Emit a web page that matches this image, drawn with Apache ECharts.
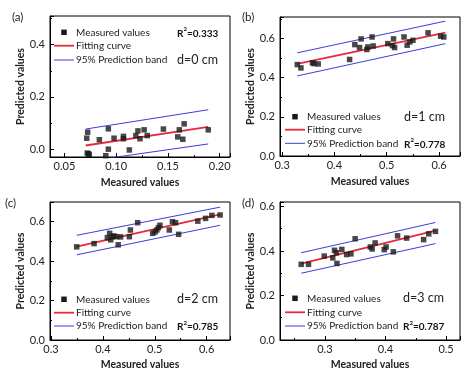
<!DOCTYPE html>
<html><head><meta charset="utf-8">
<script src="https://cdn.jsdelivr.net/npm/echarts@6/dist/echarts.min.js"></script>
<style>html,body{margin:0;padding:0;background:#fff}#c{width:474px;height:382px}</style>
</head><body><div id="c"></div>
<script>
// ---- Panel (a) d=0 cm ----
const aMeasured = [0.0715,0.0724,0.072,0.074,0.073,0.0837,0.0924,0.0924,0.0899,0.0979,0.107,0.107,0.1127,0.119,0.121,0.123,0.127,0.130,0.1456,0.1595,0.161,0.1644,0.1657,0.189];
const aPredicted = [0.042,0.065,-0.015,-0.02,-0.018,0.036,0.078,0.0,-0.025,0.042,0.049,0.040,-0.003,0.052,0.070,0.040,0.074,0.052,0.077,0.047,0.074,0.038,0.097,0.074];
const aLineX = [0.0705, 0.189];
const aFit = [0.014, 0.085];
const aUpper = [0.077, 0.151];
const aLower = [-0.047, 0.020];
// ---- Panel (b) d=1 cm ----
const bMeasured = [0.329,0.336,0.358,0.361,0.369,0.429,0.439,0.448,0.451,0.462,0.464,0.472,0.474,0.502,0.511,0.513,0.515,0.533,0.539,0.544,0.550,0.579,0.603,0.609];
const bPredicted = [0.467,0.450,0.476,0.472,0.470,0.493,0.569,0.554,0.598,0.544,0.557,0.608,0.562,0.574,0.564,0.598,0.554,0.608,0.566,0.583,0.591,0.629,0.612,0.608];
const bLineX = [0.329, 0.612];
const bFit = [0.470, 0.630];
const bUpper = [0.527, 0.689];
const bLower = [0.409, 0.574];
// ---- Panel (c) d=2 cm ----
const cMeasured = [0.3495,0.383,0.4086,0.413,0.415,0.418,0.421,0.426,0.4295,0.434,0.451,0.453,0.467,0.496,0.5006,0.504,0.507,0.510,0.528,0.534,0.540,0.546,0.583,0.598,0.610,0.626];
const cPredicted = [0.4725,0.489,0.519,0.541,0.508,0.524,0.528,0.524,0.483,0.523,0.524,0.558,0.595,0.541,0.548,0.558,0.570,0.582,0.558,0.600,0.595,0.536,0.603,0.617,0.632,0.634];
const cLineX = [0.3495, 0.626];
const cFit = [0.474, 0.637];
const cUpper = [0.531, 0.674];
const cLower = [0.432, 0.582];
// ---- Panel (d) d=3 cm ----
const dMeasured = [0.261,0.273,0.299,0.313,0.316,0.319,0.320,0.328,0.336,0.343,0.350,0.375,0.378,0.383,0.398,0.401,0.413,0.420,0.435,0.463,0.4715,0.4825];
const dPredicted = [0.340,0.340,0.377,0.369,0.403,0.392,0.344,0.407,0.384,0.387,0.455,0.418,0.409,0.436,0.406,0.418,0.396,0.468,0.458,0.451,0.477,0.488];
const dLineX = [0.261, 0.4825];
const dFit = [0.343, 0.491];
const dUpper = [0.392, 0.528];
const dLower = [0.300, 0.433];

const panelLabels = ['(a)','(b)','(c)','(d)'];
const distLabels = ['d=0 cm','d=1 cm','d=2 cm','d=3 cm'];
const r2Labels = ['0.333','0.778','0.785','0.787'];
const legendNames = ['Measured values','Fitting curve','95% Prediction band'];
const xTitle = 'Measured values';
const yTitle = 'Predicted values';

const FONT = 'Lato, "Liberation Sans", Arial, sans-serif';
const RED = '#e8283f';
const BLUE = '#3c3cdc';

const panels = [
  {mx:aMeasured, my:aPredicted, lx:aLineX, fit:aFit, up:aUpper, lo:aLower,
   grid:{left:50,top:16,width:180,height:141}, x:[0.036,0.21,0.05,2], y:[-0.03,0.51,0.2,1], xg:20, yg:20},
  {mx:bMeasured, my:bPredicted, lx:bLineX, fit:bFit, up:bUpper, lo:bLower,
   grid:{left:280,top:17,width:180,height:139}, x:[0.296,0.64,0.1,1], y:[0,0.71,0.2,1], xg:20, yg:24},
  {mx:cMeasured, my:cPredicted, lx:cLineX, fit:cFit, up:cUpper, lo:cLower,
   grid:{left:50,top:202,width:180,height:138}, x:[0.298,0.645,0.1,1], y:[0,0.7,0.2,1], xg:19, yg:20},
  {mx:dMeasured, my:dPredicted, lx:dLineX, fit:dFit, up:dUpper, lo:dLower,
   grid:{left:280,top:202,width:180,height:138}, x:[0.226,0.523,0.1,1], y:[0,0.62,0.2,1], xg:19, yg:24}
];

function fmt(step, dec){
  return function(v){
    const k = v/step;
    return Math.abs(k - Math.round(k)) < 1e-6 ? v.toFixed(dec) : '';
  };
}
function axis(r, isX, gap){
  return {
    type:'value', min:r[0], max:r[1], minInterval:r[2], maxInterval:r[2], splitNumber:3,
    name: isX ? xTitle : yTitle, nameLocation:'middle', nameGap:gap,
    nameTextStyle:{fontFamily:FONT, fontWeight:'bold', fontSize:10.5, color:'#222'},
    axisLine:{show:true, onZero:false, lineStyle:{color:'#000', width:1}},
    axisTick:{show:true, inside:true, length:4, lineStyle:{color:'#000'}},
    minorTick:{show:true, splitNumber:2, length:2, lineStyle:{color:'#000'}},
    splitLine:{show:false},
    axisLabel:{fontFamily:FONT, fontSize:11, color:'#222', margin:isX?4:5,
      formatter: fmt(r[2], r[3]), showMinLabel:true, showMaxLabel:true}
  };
}

const grids=[], xAxes=[], yAxes=[], series=[], graphics=[];
panels.forEach((p,i)=>{
  grids.push(Object.assign({show:true, borderColor:'#000', borderWidth:1, containLabel:false}, p.grid));
  xAxes.push(Object.assign({gridIndex:i}, axis(p.x, true, p.xg)));
  yAxes.push(Object.assign({gridIndex:i}, axis(p.y, false, p.yg)));
  series.push({type:'scatter', name:legendNames[0], xAxisIndex:i, yAxisIndex:i, symbol:'rect', symbolSize:5.5,
    itemStyle:{color:'#1a1a1a'}, data:p.mx.map((v,k)=>[v,p.my[k]]), z:5});
  const ln = (ys, color, w, name)=>({type:'line', name, xAxisIndex:i, yAxisIndex:i, showSymbol:false, clip:true,
    lineStyle:{color, width:w}, data:p.lx.map((v,k)=>[v,ys[k]]), z:3, silent:true});
  series.push(ln(p.fit, RED, 1.8, legendNames[1]));
  series.push(ln(p.up, BLUE, 1, legendNames[2]));
  series.push(ln(p.lo, BLUE, 1, legendNames[2]));
});

// legends (positions)
const leg = [
  {mx:64, tx:76, rows:[32.3,45.7,60], dx:177, dRow:2, rRow:0},
  {mx:295, tx:307, rows:[116.7,129.7,143.3], dx:404, dRow:0, rRow:2},
  {mx:64, tx:76, rows:[299.3,312.7,326], dx:177, dRow:0, rRow:2},
  {mx:295, tx:307, rows:[298.3,312.3,326], dx:403, dRow:0, rRow:2}
];
const labelPos = [[12,17],[242,17],[5,203],[242,203]];
leg.forEach((L,i)=>{
  graphics.push({type:'rect', shape:{x:L.mx-2.75, y:L.rows[0]-2.75, width:5.5, height:5.5}, style:{fill:'#1a1a1a'}});
  graphics.push({type:'line', shape:{x1:L.mx-10, y1:L.rows[1], x2:L.mx+10, y2:L.rows[1]}, style:{stroke:RED, lineWidth:1.8}});
  graphics.push({type:'line', shape:{x1:L.mx-10, y1:L.rows[2], x2:L.mx+10, y2:L.rows[2]}, style:{stroke:BLUE, lineWidth:1}});
  legendNames.forEach((n,k)=>{
    graphics.push({type:'text', style:{text:n, x:L.tx, y:L.rows[k], verticalAlign:'middle', align:'left',
      font:'10px '+FONT, fill:'#222'}});
  });
  graphics.push({type:'text', style:{text:distLabels[i], x:L.dx, y:L.rows[L.dRow], verticalAlign:'middle', align:'left',
    font:'12.5px '+FONT, fill:'#222'}});
  graphics.push({type:'text', style:{text:'{b|R}{s|2}{b|='+r2Labels[i]+'}', x:L.dx, y:L.rows[L.rRow], verticalAlign:'middle', align:'left',
    rich:{b:{fontFamily:FONT, fontWeight:'bold', fontSize:10, fill:'#111', verticalAlign:'bottom', lineHeight:12},
          s:{fontFamily:FONT, fontWeight:'bold', fontSize:6, fill:'#111', verticalAlign:'top', lineHeight:12, padding:[0,0,5,0]}}}});
  graphics.push({type:'text', style:{text:panelLabels[i], x:labelPos[i][0], y:labelPos[i][1], verticalAlign:'middle', align:'left',
    font:'11.5px '+FONT, fill:'#222'}});
});

const chart = echarts.init(document.getElementById('c'), null, {renderer:'canvas'});
chart.setOption({
  backgroundColor:'#fff', animation:false,
  grid:grids, xAxis:xAxes, yAxis:yAxes, series, graphic:graphics
});
</script></body></html>
